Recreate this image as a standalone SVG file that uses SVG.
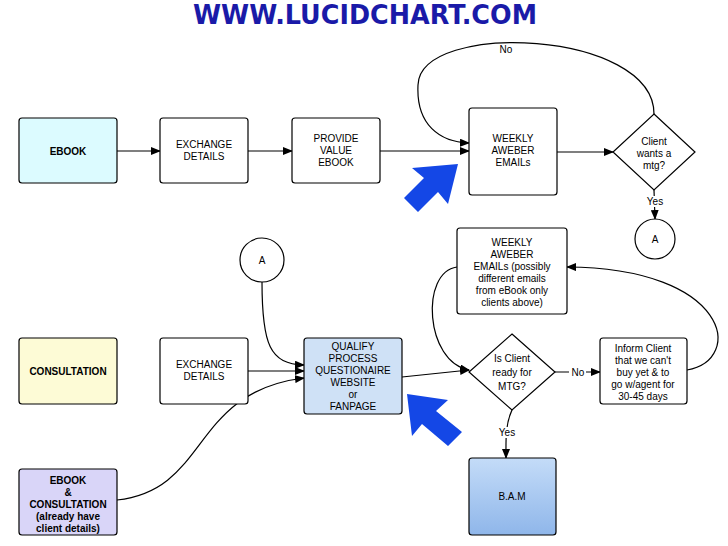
<svg xmlns="http://www.w3.org/2000/svg" width="728" height="546" viewBox="0 0 728 546">
<defs>
<marker id="ah" markerWidth="10" markerHeight="8" refX="9" refY="4" orient="auto" markerUnits="userSpaceOnUse"><path d="M0,0 L10,4 L0,8 z" fill="#000"/></marker>
<linearGradient id="gB" x1="0" y1="0" x2="0" y2="1"><stop offset="0" stop-color="#c4dcf8"/><stop offset="1" stop-color="#8fb6ea"/></linearGradient>
</defs>
<style>
.n{stroke:#000;stroke-width:1.2;fill:#fff}
.t{font-family:"Liberation Sans",Arial,sans-serif;font-size:10px;text-anchor:middle;fill:#000}
.b{font-weight:bold}
.c{fill:none;stroke:#000;stroke-width:1.2;marker-end:url(#ah)}
.l{font-family:"Liberation Sans",Arial,sans-serif;font-size:10px;text-anchor:middle;fill:#000}
</style>
<rect width="728" height="546" fill="#fff"/>
<text x="365" y="24" font-family="'DejaVu Sans',sans-serif" font-weight="bold" font-size="26" fill="#1a1aa8" text-anchor="middle" textLength="344" lengthAdjust="spacingAndGlyphs">WWW.LUCIDCHART.COM</text>
<g id="connectors">
<path class="c" d="M117,151 L160,151"/>
<path class="c" d="M248,151 L292,151"/>
<path class="c" d="M380,151 L469,151"/>
<path class="c" d="M557,152 L613,152"/>
<path class="c" d="M654,114 C654,30 420,20 418,85 C416,125 440,142 469,143"/>
<rect x="498" y="44" width="16" height="11" fill="#fff"/><text class="l" x="506" y="53">No</text>
<path class="c" d="M654,190 L655,219"/>
<rect x="644" y="196" width="22" height="11" fill="#fff"/><text class="l" x="655" y="205">Yes</text>
<path class="c" d="M262,282 C262,345 270,364 304,365"/>
<path class="c" d="M248,371 L304,371"/>
<path class="c" d="M117,500 C210,490 190,392 304,378"/>
<path class="c" d="M402,377 L469,370"/>
<path class="c" d="M457,267 C420,272 425,362 469,370"/>
<path class="c" d="M555,372 L600,372"/>
<rect x="569" y="366" width="17" height="11" fill="#fff"/><text class="l" x="578" y="376">No</text>
<path class="c" d="M687,370 C745,360 730,268 567,267"/>
<path class="c" d="M512,410 C505,425 506,440 506,458"/>
<rect x="496" y="427" width="22" height="11" fill="#fff"/><text class="l" x="507" y="436">Yes</text>
</g>
<g id="ebook"><rect class="n" x="19" y="118" width="98" height="65" rx="3" style="fill:#dcfbff"/><text class="t b" x="68" y="155">EBOOK</text></g>
<g id="exchange1"><rect class="n" x="160" y="118" width="88" height="65" rx="3"/><text class="t" x="204" y="148">EXCHANGE</text><text class="t" x="204" y="160">DETAILS</text></g>
<g id="provide"><rect class="n" x="292" y="118" width="88" height="65" rx="3"/><text class="t" x="336" y="142">PROVIDE</text><text class="t" x="336" y="154">VALUE</text><text class="t" x="336" y="166">EBOOK</text></g>
<g id="weekly1"><rect class="n" x="469" y="108" width="88" height="87" rx="3"/><text class="t" x="513" y="142">WEEKLY</text><text class="t" x="513" y="154">AWEBER</text><text class="t" x="513" y="166">EMAILs</text></g>
<g id="wantsmtg"><path class="n" d="M654,114 L695,152 L654,190 L613,152 z"/><text class="t" x="654" y="145">Client</text><text class="t" x="654" y="157">wants a</text><text class="t" x="654" y="169">mtg?</text></g>
<g id="circleA1"><circle class="n" cx="655" cy="239" r="20"/><text class="t" x="655" y="243">A</text></g>
<g id="circleA2"><circle class="n" cx="262" cy="260" r="22"/><text class="t" x="262" y="264">A</text></g>
<g id="weekly2"><rect class="n" x="457" y="228" width="110" height="86" rx="3"/><text class="t" x="512" y="246">WEEKLY</text><text class="t" x="512" y="258">AWEBER</text><text class="t" x="512" y="270">EMAILs (possibly</text><text class="t" x="512" y="282">different emails</text><text class="t" x="512" y="294">from eBook only</text><text class="t" x="512" y="306">clients above)</text></g>
<g id="consultation"><rect class="n" x="19" y="338" width="98" height="66" rx="3" style="fill:#fdfbd6"/><text class="t b" x="68" y="375">CONSULTATION</text></g>
<g id="exchange2"><rect class="n" x="160" y="338" width="88" height="66" rx="3"/><text class="t" x="204" y="368">EXCHANGE</text><text class="t" x="204" y="380">DETAILS</text></g>
<g id="qualify"><rect class="n" x="304" y="338" width="98" height="76" rx="3" style="fill:#cfe1f6"/><text class="t" x="353" y="350">QUALIFY</text><text class="t" x="353" y="362">PROCESS</text><text class="t" x="353" y="374">QUESTIONAIRE</text><text class="t" x="353" y="386">WEBSITE</text><text class="t" x="353" y="398">or</text><text class="t" x="353" y="410">FANPAGE</text></g>
<g id="ebookcons"><rect class="n" x="19" y="469" width="98" height="66" rx="3" style="fill:#d9d5f8"/><text class="t b" x="68" y="484">EBOOK</text><text class="t b" x="68" y="496">&amp;</text><text class="t b" x="68" y="508">CONSULTATION</text><text class="t b" x="68" y="520">(already have</text><text class="t b" x="68" y="532">client details)</text></g>
<g id="ready"><path class="n" d="M512,334 L555,372 L512,410 L469,372 z"/><text class="t" x="512" y="362">Is Client</text><text class="t" x="512" y="376">ready for</text><text class="t" x="512" y="390">MTG?</text></g>
<g id="inform"><rect class="n" x="600" y="338" width="87" height="66" rx="3"/><text class="t" x="643" y="352">Inform Client</text><text class="t" x="643" y="364">that we can't</text><text class="t" x="643" y="376">buy yet &amp; to</text><text class="t" x="643" y="388">go w/agent for</text><text class="t" x="643" y="400">30-45 days</text></g>
<g id="bam"><rect class="n" x="469" y="458" width="87" height="77" rx="3" style="fill:url(#gB)"/><text class="t" x="512" y="500">B.A.M</text></g>
<g id="arrows" fill="#1447e6">
<polygon points="458,164 448,204 438,192 418,212 404,198 424,178 412,168"/>
<polygon points="407,394 448,400 436,411 462,432 448,446 422,424 412,436"/>
</g>
</svg>
